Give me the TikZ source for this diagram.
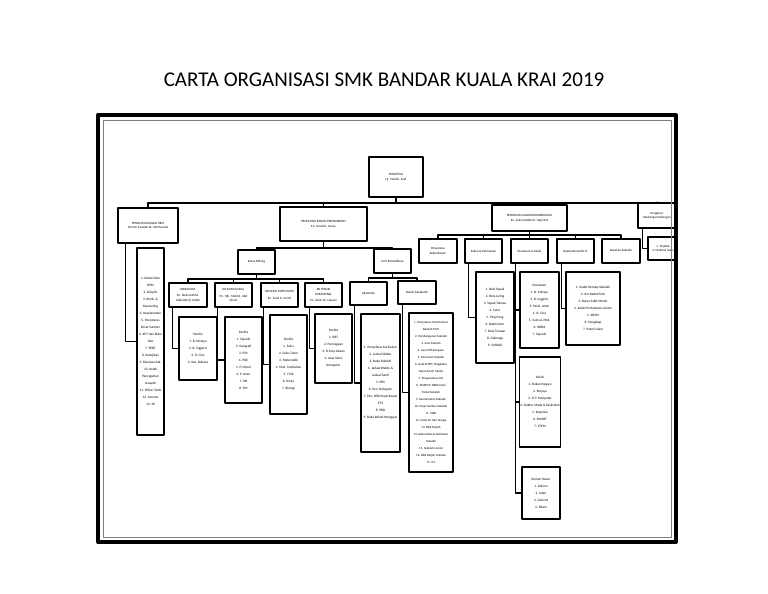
\documentclass[tikz,border=0pt]{standalone}
\usepackage{fontspec}
\setmainfont{Carlito}

\begin{document}
\begin{tikzpicture}[x=1pt,y=-1pt,line cap=round,line join=round,
    unit/.style={draw,line width=1.2pt,inner sep=1pt,align=center,font=\fontsize{3.2}{4.5}\selectfont},
    list/.style={draw,line width=1.2pt,inner sep=1pt,align=center,font=\fontsize{3.4}{7}\selectfont},
    link/.style={line width=1.8pt}]
\useasboundingbox (0,0) rectangle (768,594);
\node[font=\fontsize{21}{23}\selectfont] (title) at (384,80) {CARTA ORGANISASI SMK BANDAR KUALA KRAI 2019};
% pengetua dan penolong kanan
\node[unit,minimum width=54,minimum height=40] (pengetua) at (396,177) {PENGETUA\\Hj. Yazid b. Said};
\node[unit,minimum width=60,minimum height=35] (hem) at (148,225.5) {PENOLONG KANAN HEM\\Cik Nor Fauziah bt. Abd Samad};
\node[unit,minimum width=87,minimum height=34] (pkp) at (323.5,224) {PENOLONG KANAN PENTADBIRAN\\En. Ismail b. Yunus};
\node[unit,minimum width=75,minimum height=26] (pkk) at (529.5,218) {PENOLONG KANAN KOKURIKULUM\\En. Zainal Abidin b. Haji Mat};
\node[unit,minimum width=38,minimum height=25] (sokongan) at (657,215.5) {Pengerusi\\Kakitangan Sokongan};
\node[unit,minimum width=30,minimum height=23] (staf) at (663,248.5) {1. Pejabat\\2. Makmal Sains};
% HEM
\node[list,minimum width=27,minimum height=187] (hemlist) at (150.5,341.5) {1. Kebersihan\\HEM\\2. Disiplin\\3. Bimb. \&\\Kaunseling\\4. Keselamatan\\5. Penyelaras\\Pusat Sumber\\6. KPT dan Buku\\Teks\\7. SPBT\\8. Kebajikan\\9. Biasiswa Sek.\\10. Kelab\\Pencegahan\\Jenayah\\11. PPDa/ SLAG\\12. Asrama\\13. 3K};
% pentadbiran
\node[unit,minimum width=37,minimum height=24] (kurikulum) at (256.5,262) {Ketua Bidang};
\node[unit,minimum width=37,minimum height=24] (unitp) at (392.5,261) {Unit Pentadbiran};
\node[unit,minimum width=38,minimum height=24] (kb1) at (188,295) {KB BAHASA\\[2pt]Pn. Rozhanah bt.\\Abdullah @ Salleh};
\node[unit,minimum width=37,minimum height=24] (kb2) at (233.5,295) {KB SAINS SOSIAL\\[2pt]Pn. Hjh. Meli bt. Abd\\Ghani};
\node[unit,minimum width=37,minimum height=24] (kb3) at (279.5,295) {KB SAINS MATEMATIK\\[2pt]En. Fuad b. Ismail};
\node[unit,minimum width=37,minimum height=24] (kb4) at (323.5,295) {KB TEKNIK\\VOKASIONAL\\[2pt]Pn. Azian bt. Hassan};
\node[list,minimum width=38,minimum height=63] (pan1) at (198,348.5) {Panitia\\1. B. Melayu\\2. B. Inggeris\\3. B. Cina\\4. Kes. Bahasa};
\node[list,minimum width=37,minimum height=86] (pan2) at (243.5,360) {Panitia\\1. Sejarah\\2. Geografi\\3. PSV\\4. PQE\\5. P. Moral\\6. P. Islam\\7. PJK\\8. PM};
\node[list,minimum width=37,minimum height=99] (pan3) at (288.5,364.5) {Panitia\\1. Sains\\2. Sains Tulen\\3. Matematik\\4. Mat. Tambahan\\5. Fizik\\6. Kimia\\7. Biologi};
\node[list,minimum width=37,minimum height=69] (pan4) at (333.5,348.5) {Panitia\\1. RBT\\2. Perniagaan\\3. Prinsip Akaun\\4. Asas Sains\\Komputer};
\node[unit,minimum width=37,minimum height=23] (akademik) at (368.5,293.5) {Akademik};
\node[unit,minimum width=38,minimum height=23] (bukanakad) at (417,292.5) {Bukan Akademik};
\node[list,minimum width=39,minimum height=138] (akadlist) at (380.5,383) {1. Penyelaras Kurikulum\\2. Jadual Waktu\\3. Buku Sekolah\\4. Jadual Waktu \&\\Jadual Ganti\\5. PBS\\6. Pen. Bahagian\\7. Pen. Bilik Peperiksaan\\PT3\\8. PBD\\9. Buku Rekod Mengajar};
\node[list,minimum width=44,minimum height=159,font=\fontsize{3.1}{7}\selectfont] (bukanlist) at (431,392.5) {1. Penyelaras Transformasi\\Sekolah TS25\\2. Pembangunan Sekolah\\3. Aset Sekolah\\4. Aset Alih Kerajaan\\5. Keceriaan Sekolah\\6. Data SMPP/ Pengkalan\\Data Murid/ Media\\7. Pengetahuan Am\\8. SPLKPM/ NKRA Data\\Fizikal Sekolah\\9. Keselamatan Sekolah\\10. Pusat Sumber Sekolah\\11. PIBG\\12. Jimat Air dan Tenaga\\13. Bilik Darjah\\14. Kebersihan \& Kesihatan\\Sekolah\\15. Sekolah Lestari\\16. Bilik Darjah Sekolah\\17. ICT};
% kokurikulum
\node[unit,minimum width=38,minimum height=24] (koku1) at (438,251) {Penyelaras\\Kokurikulum};
\node[unit,minimum width=37,minimum height=24] (koku2) at (483.5,251) {Sukan \& Permainan};
\node[unit,minimum width=37,minimum height=24] (koku3) at (529.5,251) {Persatuan \& Kelab};
\node[unit,minimum width=37,minimum height=24] (koku4) at (575.5,251) {Badan Beruniform};
\node[unit,minimum width=38,minimum height=24] (koku5) at (621,251) {Koperasi Sekolah};
\node[list,minimum width=38,minimum height=91] (sukan) at (495,317.5) {1. Bola Sepak\\2. Bola Jaring\\3. Sepak Takraw\\4. Catur\\5. Ping Pong\\6. Badminton\\7. Bola Tampar\\8. Olahraga\\9. Softball};
\node[list,minimum width=39,minimum height=76] (persatuan) at (539.5,310) {Persatuan\\1. B. Melayu\\2. B. Inggeris\\3. Pend. Islam\\4. B. Cina\\5. Sains \& Mat.\\6. KRSM\\7. Sejarah};
\node[list,minimum width=38,minimum height=90] (kelab) at (540,402) {Kelab\\1. Rukun Negara\\2. Kerjaya\\3. ICT/ Komputer\\4. Doktor Muda \& Kesihatan\\5. Koperasi\\6. SMART\\7. STEM};
\node[list,minimum width=38,minimum height=52] (rumah) at (541,493) {Rumah Sukan\\1. Delima\\2. Intan\\3. Zamrud\\4. Nilam};
\node[list,minimum width=54,minimum height=73] (uniform) at (593,308.5) {1. Kadet Remaja Sekolah\\2. Kor Kadet Polis\\3. Bulan Sabit Merah\\4. Kadet Pertahanan Awam\\5. KRSM\\6. Pengakap\\7. Puteri Islam};
% garis penghubung
\draw[link] (pengetua.south) -- ++(0,5) -| (hem.north);
\draw[link] (pengetua.south) -- ++(0,5) -| (pkp.north);
\draw[link] (pengetua.south) -- ++(0,5) -| (pkk.north);
\draw[link] (pengetua.south) -- ++(0,5) -| (sokongan.north);
\draw[link] ([xshift=8]hem.south west) |- (hemlist.west);
\draw[link] ([xshift=5]sokongan.south west) |- (staf.west);
\draw[link] (pkp.south) -- ++(0,6) -| (kurikulum.north);
\draw[link] (pkp.south) -- ++(0,6) -| (unitp.north);
\foreach \k in {kb1,kb2,kb3,kb4}
  \draw[link] (kurikulum.south) -- ++(0,4) -| (\k.north);
\draw[link] ([xshift=4]kb1.south west) |- (pan1.west);
\draw[link] ([xshift=3]kb2.south west) |- (pan2.west);
\draw[link] ([xshift=3]kb3.south west) |- (pan3.west);
\draw[link] ([xshift=5]kb4.south west) |- (pan4.west);
\draw[link] (unitp.south) -- ++(0,4) -| (akademik.north);
\draw[link] (unitp.south) -- ++(0,4) -| (bukanakad.north);
\draw[link] ([xshift=5]akademik.south west) |- (akadlist.west);
\draw[link] ([xshift=5]bukanakad.south west) |- (bukanlist.west);
\foreach \k in {koku1,koku2,koku3,koku4,koku5}
  \draw[link] (pkk.south) -- ++(0,3) -| (\k.north);
\draw[link] ([xshift=4]koku2.south west) |- (sukan.west);
\draw[link] ([xshift=5]koku3.south west) |- (persatuan.west);
\draw[link] ([xshift=5]koku3.south west) |- (kelab.west);
\draw[link] ([xshift=5]koku3.south west) |- (rumah.west);
\draw[link] ([xshift=5]koku4.south west) |- (uniform.west);
% bingkai
\fill[white] (676,110) rectangle (690,548);
\draw[line width=4pt] (98,115) rectangle (676,542);
\draw[line width=1pt,gray] (103,120) rectangle (671,537);
\end{tikzpicture}
\end{document}
